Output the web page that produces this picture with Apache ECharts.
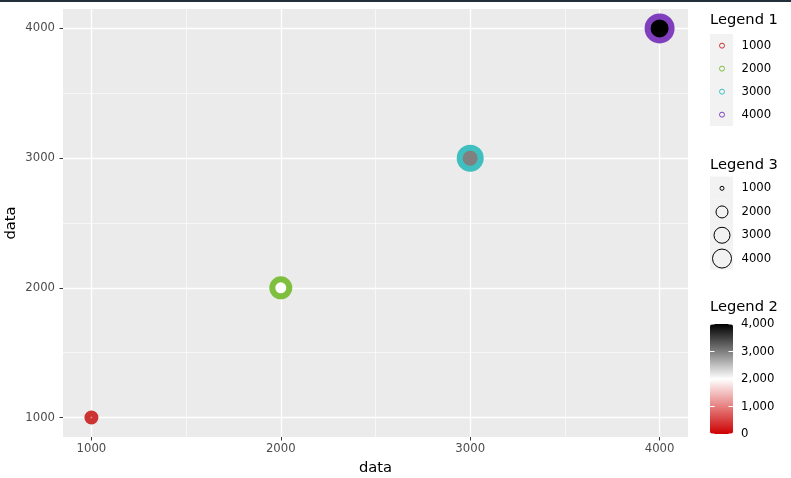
<!DOCTYPE html>
<html><head><meta charset="utf-8">
<script src="https://cdn.jsdelivr.net/npm/echarts@6/dist/echarts.min.js"></script>
<style>html,body{margin:0;padding:0;background:#fff}#c{width:791px;height:478px}</style>
</head><body><div id="c"></div>
<script>
// ---- data ----
const categories = ['1000', '2000', '3000', '4000'];
const xValues = [1000, 2000, 3000, 4000];
const yValues = [1000, 2000, 3000, 4000];
const fillValues = [1000, 2000, 3000, 4000];
const sizeValues = [1000, 2000, 3000, 4000];
const axisTicks = [1000, 2000, 3000, 4000];
const minorTicks = [1500, 2500, 3500];
const xLimits = [850, 4150];
const yLimits = [850, 4150];
const legend2Ticks = [0, 1000, 2000, 3000, 4000];
const sizeLegendValues = ['1000', '2000', '3000', '4000'];

// ---- styles / layout ----
const FONT = 'DejaVu Sans';
const catColors = ['#CC3333', '#7FBF3F', '#3FBFBF', '#7F3FBF'];
const symbolSizeFor = {1000: 8, 2000: 17, 3000: 21, 4000: 24};
const legendSizeFor = {1000: 4, 2000: 12, 3000: 16, 4000: 19};
const TXT = 11.7;
const keyX = 710, keyW = 23, textX = 741;
const L1 = {top: 34, rowH: 23};
const L3 = {top: 176.5, rowH: 23.3};
const CB = {left: 710, top: 324, w: 23, h: 110, min: 0, max: 4000};

const chart = echarts.init(document.getElementById('c'));

function vLines(vals) { return vals.map(v => ({coords: [[v, yLimits[0]], [v, yLimits[1]]]})); }
function hLines(vals) { return vals.map(v => ({coords: [[xLimits[0], v], [xLimits[1], v]]})); }

const series = [
  {type: 'lines', coordinateSystem: 'cartesian2d', z: 1, silent: true,
   lineStyle: {color: '#FFFFFF', width: 0.6, opacity: 1},
   data: vLines(minorTicks).concat(hLines(minorTicks))},
  {type: 'lines', coordinateSystem: 'cartesian2d', z: 1, silent: true,
   lineStyle: {color: '#FFFFFF', width: 1.3, opacity: 1},
   data: vLines(axisTicks).concat(hLines(axisTicks))}
];
categories.forEach((c, i) => {
  series.push({
    type: 'scatter', name: c, z: 3,
    data: [[xValues[i], yValues[i], fillValues[i], sizeValues[i]]],
    symbol: 'circle',
    symbolSize: v => symbolSizeFor[v[3]],
    itemStyle: {borderColor: catColors[i], borderWidth: 6, opacity: 1},
    emphasis: {disabled: true}
  });
});

const legends = [];
const graphics = [{type: 'rect', shape: {x: 0, y: 0, width: 791, height: 2}, style: {fill: '#22303C'}, z: 10}];
categories.forEach((c, i) => {
  const cy = L1.top + L1.rowH * (i + 0.5);
  const d = 5;
  graphics.push({type: 'rect', shape: {x: keyX, y: L1.top + L1.rowH * i, width: keyW, height: L1.rowH}, style: {fill: '#F2F2F2'}, z: 0});
  legends.push({
    data: [{name: c, icon: 'circle', itemStyle: {color: 'rgba(0,0,0,0)', borderColor: catColors[i], borderWidth: 1}}],
    itemWidth: d, itemHeight: d, padding: 0, selectedMode: false,
    left: keyX + keyW / 2 - d / 2, top: cy - Math.max(d, TXT) / 2,
    textStyle: {fontFamily: FONT, fontSize: TXT, color: '#000', padding: [0, 0, 0, textX - (keyX + keyW / 2 + d / 2 + 5)]}
  });
});
sizeLegendValues.forEach((c, i) => {
  const cy = L3.top + L3.rowH * (i + 0.5);
  const d = legendSizeFor[c];
  graphics.push({type: 'rect', shape: {x: keyX, y: L3.top + L3.rowH * i, width: keyW, height: L3.rowH}, style: {fill: '#F2F2F2'}, z: 0});
  legends.push({
    data: [{name: c, icon: 'circle', itemStyle: {color: 'rgba(0,0,0,0)', borderColor: '#000000', borderWidth: 1}}],
    itemWidth: d, itemHeight: d, padding: 0, selectedMode: false,
    left: keyX + keyW / 2 - d / 2, top: cy - Math.max(d, TXT) / 2,
    textStyle: {fontFamily: FONT, fontSize: TXT, color: '#000', padding: [0, 0, 0, textX - (keyX + keyW / 2 + d / 2 + 5)]}
  });
});
legend2Ticks.forEach(v => {
  const y = CB.top + (1 - (v - CB.min) / (CB.max - CB.min)) * CB.h;
  graphics.push({type: 'text', x: textX, y: y, style: {text: v.toLocaleString('en-US'), fontFamily: FONT, fontSize: TXT, fill: '#000', verticalAlign: 'middle', align: 'left'}, z: 5});
  graphics.push({type: 'line', shape: {x1: CB.left, y1: y, x2: CB.left + 4.5, y2: y}, style: {stroke: '#FFFFFF', lineWidth: 1}, z: 6});
  graphics.push({type: 'line', shape: {x1: CB.left + CB.w - 4.5, y1: y, x2: CB.left + CB.w, y2: y}, style: {stroke: '#FFFFFF', lineWidth: 1}, z: 6});
});

const titleStyle = {fontFamily: FONT, fontSize: 14.7, fontWeight: 'normal', color: '#000'};
chart.setOption({
  animation: false,
  backgroundColor: '#FFFFFF',
  textStyle: {fontFamily: FONT},
  title: [
    {text: 'Legend 1', left: 710, top: 12.5, padding: 0, textStyle: titleStyle},
    {text: 'Legend 3', left: 710, top: 157.5, padding: 0, textStyle: titleStyle},
    {text: 'Legend 2', left: 710, top: 299.5, padding: 0, textStyle: titleStyle}
  ],
  grid: {left: 63, right: 103, top: 9, bottom: 41, show: true, backgroundColor: '#EBEBEB', borderWidth: 0,
         containLabel: false, outerBoundsMode: 'none'},
  xAxis: {
    type: 'value', min: xLimits[0], max: xLimits[1],
    name: 'data', nameLocation: 'middle', nameGap: 24, nameMoveOverlap: false,
    nameTextStyle: {fontFamily: FONT, fontSize: 14.7, color: '#000'},
    axisLine: {show: false},
    axisTick: {show: true, length: 3.5, customValues: axisTicks, lineStyle: {color: '#333333', width: 1}},
    axisLabel: {customValues: axisTicks, margin: 6, fontFamily: FONT, fontSize: TXT, color: '#4D4D4D', formatter: v => String(v)},
    splitLine: {show: false}
  },
  yAxis: {
    type: 'value', min: yLimits[0], max: yLimits[1],
    name: 'data', nameLocation: 'middle', nameGap: 44, nameMoveOverlap: false,
    nameTextStyle: {fontFamily: FONT, fontSize: 14.7, color: '#000'},
    axisLine: {show: false},
    axisTick: {show: true, length: 3.5, customValues: axisTicks, lineStyle: {color: '#333333', width: 1}},
    axisLabel: {customValues: axisTicks, margin: 8, fontFamily: FONT, fontSize: TXT, color: '#4D4D4D', formatter: v => String(v)},
    splitLine: {show: false}
  },
  visualMap: {
    type: 'continuous', min: CB.min, max: CB.max, dimension: 2, seriesIndex: [2, 3, 4, 5],
    inRange: {color: ['#CD0000', '#FFFFFF', '#000000']},
    left: CB.left, top: CB.top, itemWidth: CB.w, itemHeight: CB.h, padding: 0,
    calculable: false, hoverLink: false, text: null, showLabel: false
  },
  legend: legends,
  graphic: graphics,
  series: series
});
</script></body></html>
